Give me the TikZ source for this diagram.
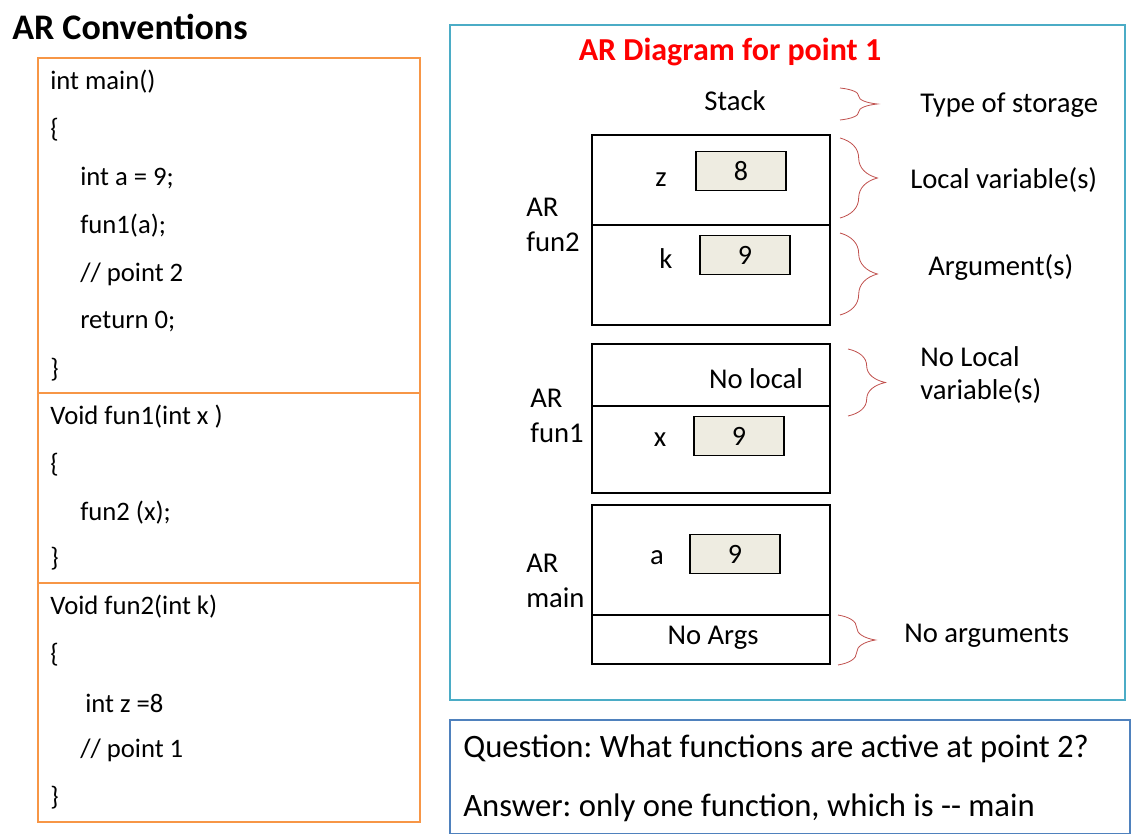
\documentclass[tikz,border=0pt]{standalone}
\usepackage{fontspec}
\setmainfont{Carlito}
\usetikzlibrary{decorations.pathreplacing}
\definecolor{orng}{HTML}{F79646}
\definecolor{lblue}{HTML}{4BACC6}
\definecolor{dblue}{HTML}{4F81BD}
\definecolor{bred}{HTML}{C0504D}
\definecolor{valfill}{HTML}{EEECE1}
\frenchspacing
\tikzset{
 code/.style={anchor=west,font=\fontsize{20}{22}\selectfont,inner sep=0},
 lbl/.style={font=\fontsize{21.5}{24}\selectfont,inner sep=0},
 frame/.style={draw=black,line width=0.8pt},
 val/.style={draw=black,fill=valfill,line width=0.8pt,minimum width=67.5pt,minimum height=29pt,font=\fontsize{21}{23}\selectfont},
 brc/.style={draw=bred,decorate,decoration={brace,amplitude=28pt,aspect=0.5},line width=0.6pt},
 obox/.style={draw=orng,line width=1.5pt},
}
\begin{document}
\begin{tikzpicture}[x=0.75pt,y=-0.75pt]
\useasboundingbox (0,0) rectangle (1143,834);
\node[anchor=west,font=\bfseries\fontsize{27}{30}\selectfont,inner sep=0] (t) at (12,27) {AR Conventions};
\draw[obox] (38,58) rectangle (420,393);
\draw[obox] (38,393) rectangle (420,583);
\draw[obox] (38,583) rectangle (420,822);
\node[code] (c1) at (50,82) {int main()};
\node[code] (c2) at (50,130) {\{};
\node[code] (c3) at (80,178) {int a = 9;};
\node[code] (c4) at (80,226) {fun1(a);};
\node[code] (c5) at (80,274) {// point 2};
\node[code] (c6) at (80,322) {return 0;};
\node[code] (c7) at (50,370) {\}};
\node[code] (d1) at (50,417) {Void fun1(int x )};
\node[code] (d2) at (50,465) {\{};
\node[code] (d3) at (80,513) {fun2 (x);};
\node[code] (d4) at (50,559) {\}};
\node[code] (e1) at (50,607) {Void fun2(int k)};
\node[code] (e2) at (50,655) {\{};
\node[code] (e3) at (85,703) {int z =8};
\node[code] (e4) at (80,750) {// point 1};
\node[code] (e5) at (50,798) {\}};
% right panel
\draw[lblue,line width=1.5pt] (450,25) rectangle (1125,700);
\node[font=\bfseries\fontsize{24}{27}\selectfont,text=red] (h) at (730,52) {AR Diagram for point 1};
\node[lbl] (st) at (735,101) {Stack};
% fun2
\draw[frame] (592,135) rectangle (830,325);
\draw[frame] (592,225) -- (830,225);
\node[lbl] (z) at (661,180) {z};
\node[val] (zv) at (741,171) {8};
\node[lbl] (k) at (666,259) {k};
\node[val] (kv) at (745,255) {9};
\node[lbl,align=left,anchor=west] (ar2) at (526,225) {AR\\[2pt]fun2};
% fun1
\draw[frame] (592,344) rectangle (830,493);
\draw[frame] (592,406) -- (830,406);
\node[lbl] (nl) at (756,379) {No local};
\node[lbl] (x) at (660,440) {x};
\node[val] (xv) at (739,436) {9};
\node[lbl,align=left,anchor=west] (ar1) at (530,416) {AR\\[2pt]fun1};
% main
\draw[frame] (592,505) rectangle (830,664);
\draw[frame] (592,615) -- (830,615);
\node[lbl] (a) at (657,558) {a};
\node[val] (av) at (735,554) {9};
\node[lbl] (na) at (713,638) {No Args};
\node[lbl,align=left,anchor=west] (arm) at (526,581) {AR\\[2pt]main};
% braces
\draw[brc] (840,88) -- (840,120);
\node[lbl,anchor=west] (b1) at (920,105) {Type of storage};
\draw[brc] (840,138) -- (840,218);
\node[lbl,anchor=west] (b2) at (910,180) {Local variable(s)};
\draw[brc] (840,233) -- (840,315);
\node[lbl,anchor=west] (b3) at (928,267) {Argument(s)};
\draw[brc] (848,349) -- (848,416);
\node[lbl,anchor=west,align=left] (b4) at (920,375) {No Local\\[1pt]variable(s)};
\draw[brc] (838,615) -- (838,665);
\node[lbl,anchor=west] (b5) at (904,636) {No arguments};
% question
\draw[dblue,line width=1.5pt] (450,720) rectangle (1130,834);
\node[anchor=west,font=\fontsize{24.5}{27}\selectfont,inner sep=0] (q) at (463,749) {Question: What functions are active at point 2?};
\node[anchor=west,font=\fontsize{24.5}{27}\selectfont,inner sep=0] (ans) at (463,808) {Answer: only one function, which is -{}- main};
\end{tikzpicture}
\end{document}
